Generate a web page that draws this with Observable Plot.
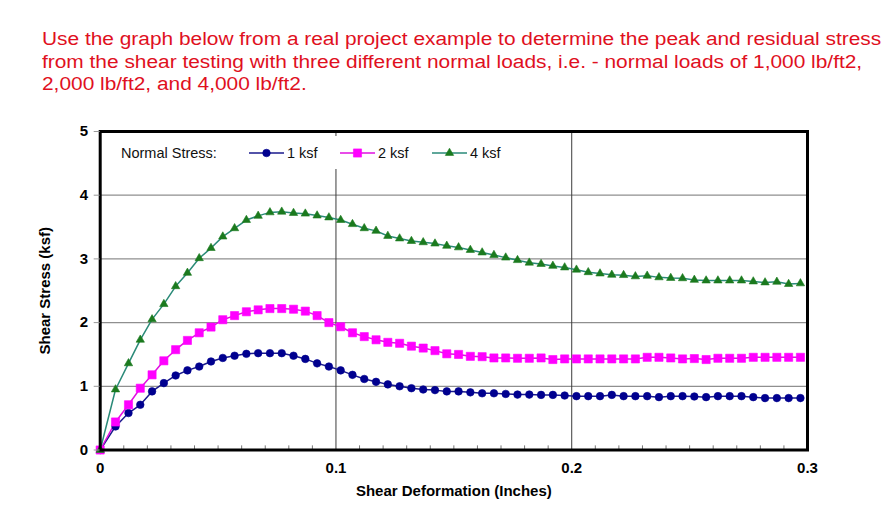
<!DOCTYPE html>
<html>
<head>
<meta charset="utf-8">
<script src="https://cdn.jsdelivr.net/npm/d3@7"></script>
<script src="https://cdn.jsdelivr.net/npm/@observablehq/plot@0.6"></script>
<style>
  html, body { margin: 0; padding: 0; background: #fff; }
  body { position: relative; width: 894px; height: 519px; overflow: hidden;
         font-family: "Liberation Sans", Arial, Helvetica, sans-serif; }
  #title { position: absolute; left: 42px; top: 28px; white-space: nowrap;
           color: #e0101e; font-size: 18px; line-height: 22.5px;
           transform: scaleX(1.16); transform-origin: 0 0; }
  #chart { position: absolute; left: 0; top: 100px; }
  #legend { position: absolute; left: 104px; top: 136px; width: 430px; height: 33px;
            background: #fff; font-size: 14.5px; color: #111; }
  #legend .item { position: absolute; top: 0; height: 33px; display: flex; align-items: center; }
  #legend svg { display: block; }
</style>
</head>
<body>
<div id="title">
  <div>Use the graph below from a real project example to determine the peak and residual stress</div>
  <div>from the shear testing with three different normal loads, i.e. - normal loads of 1,000 lb/ft2,</div>
  <div>2,000 lb/ft2, and 4,000 lb/ft2.</div>
</div>
<div id="chart"></div>
<div id="legend"></div>
<script>
// Shear deformation readings (inches)
const deformation = [
  0, 0.0065, 0.012, 0.017, 0.022, 0.027, 0.032, 0.037, 0.042, 0.047,
  0.052, 0.057, 0.062, 0.067, 0.072, 0.077, 0.082, 0.087, 0.092, 0.097,
  0.102, 0.107, 0.112, 0.117, 0.122, 0.127, 0.132, 0.137, 0.142, 0.147,
  0.152, 0.157, 0.162, 0.167, 0.172, 0.177, 0.182, 0.187, 0.192, 0.197,
  0.202, 0.207, 0.212, 0.217, 0.222, 0.227, 0.232, 0.237, 0.242, 0.247,
  0.252, 0.257, 0.262, 0.267, 0.272, 0.277, 0.282, 0.287, 0.292, 0.297
];

// Shear stress (ksf) under a normal stress of 1 ksf
const stress1ksf = [
  0, 0.37, 0.58, 0.71, 0.92, 1.05, 1.17, 1.25, 1.31, 1.39,
  1.445, 1.48, 1.51, 1.52, 1.52, 1.52, 1.48, 1.43, 1.36, 1.31,
  1.25, 1.18, 1.115, 1.07, 1.03, 1.00, 0.97, 0.95, 0.94, 0.92,
  0.92, 0.905, 0.89, 0.89, 0.88, 0.87, 0.87, 0.865, 0.865, 0.855,
  0.845, 0.845, 0.845, 0.865, 0.845, 0.845, 0.845, 0.83, 0.845, 0.845,
  0.84, 0.83, 0.845, 0.845, 0.845, 0.83, 0.815, 0.815, 0.815, 0.815
];

// Shear stress (ksf) under a normal stress of 2 ksf
const stress2ksf = [
  0, 0.44, 0.71, 0.97, 1.18, 1.40, 1.575, 1.72, 1.84, 1.93,
  2.045, 2.11, 2.17, 2.20, 2.22, 2.22, 2.21, 2.18, 2.11, 2.00,
  1.935, 1.84, 1.78, 1.73, 1.69, 1.675, 1.63, 1.60, 1.56, 1.51,
  1.50, 1.47, 1.465, 1.445, 1.445, 1.44, 1.44, 1.445, 1.42, 1.43,
  1.43, 1.43, 1.43, 1.43, 1.43, 1.43, 1.455, 1.455, 1.445, 1.43,
  1.435, 1.42, 1.44, 1.44, 1.44, 1.455, 1.455, 1.455, 1.455, 1.455
];

// Shear stress (ksf) under a normal stress of 4 ksf
const stress4ksf = [
  0, 0.95, 1.36, 1.73, 2.05, 2.29, 2.57, 2.78, 3.01, 3.17,
  3.35, 3.48, 3.61, 3.675, 3.73, 3.74, 3.72, 3.71, 3.68, 3.65,
  3.61, 3.545, 3.48, 3.44, 3.36, 3.32, 3.28, 3.26, 3.24, 3.205,
  3.18, 3.14, 3.10, 3.06, 3.02, 2.98, 2.94, 2.92, 2.89, 2.865,
  2.83, 2.79, 2.77, 2.75, 2.745, 2.725, 2.735, 2.71, 2.70, 2.695,
  2.67, 2.66, 2.66, 2.66, 2.66, 2.645, 2.63, 2.64, 2.605, 2.615
];

const seriesNames = ["1 ksf", "2 ksf", "4 ksf"];
const xTickValues = [0, 0.1, 0.2, 0.3];
const xTickLabels = ["0", "0.1", "0.2", "0.3"];
const yTickValues = [0, 1, 2, 3, 4, 5];
const minorXTicks = d3.range(1, 30).map(i => i / 100).filter(v => Math.abs(v * 10 - Math.round(v * 10)) > 1e-9);
const yGridValues = [1, 2, 3, 4];
const xGridValues = [0.1, 0.2];

const seriesStyle = {
  "1 ksf": {line: "#1a1a8c", fill: "#00008f", symbol: "circle", r: 3.8},
  "2 ksf": {line: "#e010e0", fill: "#ff00ff", symbol: "square", r: 4.6},
  "4 ksf": {line: "#2a8a78", fill: "#1b7a1e", symbol: "triangle", r: 3.1}
};

const columns = [stress1ksf, stress2ksf, stress4ksf];
const rows = [];
seriesNames.forEach((name, k) => {
  deformation.forEach((x, i) => rows.push({series: name, x, y: columns[k][i]}));
});

const font = '"Liberation Sans", Arial, Helvetica, sans-serif';

const marks = [
  Plot.ruleY(yGridValues, {stroke: "#8f8f8f", strokeWidth: 1.3}),
  Plot.ruleX(xGridValues, {stroke: "#3c3c3c", strokeWidth: 1}),
  Plot.ruleX(minorXTicks, {y1: 0, y2: 0.065, stroke: "#777", strokeWidth: 1})
];
for (const name of seriesNames) {
  const s = seriesStyle[name];
  const data = rows.filter(d => d.series === name);
  marks.push(Plot.line(data, {x: "x", y: "y", stroke: s.line, strokeWidth: 1.5}));
}
for (const name of seriesNames) {
  const s = seriesStyle[name];
  const data = rows.filter(d => d.series === name);
  marks.push(Plot.dot(data, {x: "x", y: "y", symbol: () => s.symbol, r: s.r,
    fill: s.fill, stroke: s.fill, strokeWidth: 0.6}));
}
marks.push(
  Plot.frame({stroke: "#000", strokeWidth: 3}),
  Plot.axisX({ticks: xTickValues, tickFormat: (d, i) => xTickLabels[i], tickSize: 0, tickPadding: 12,
    fontSize: 15, fontWeight: "bold", label: "Shear Deformation (Inches)", labelAnchor: "center",
    labelArrow: false, labelOffset: 46}),
  Plot.axisY({ticks: yTickValues, tickFormat: d => String(d), tickSize: 6, tickPadding: 6, stroke: "#999",
    fontSize: 15, fontWeight: "bold", label: "Shear Stress (ksf)", labelAnchor: "center",
    labelArrow: false, labelOffset: 61})
);

const chart = Plot.plot({
  width: 894,
  height: 410,
  marginLeft: 99.7,
  marginRight: 87,
  marginTop: 31,
  marginBottom: 60.5,
  style: {fontFamily: font, fontSize: "15px", fontWeight: "bold",
          color: "#000", background: "transparent", overflow: "visible"},
  x: {domain: [0, 0.3]},
  y: {domain: [0, 5]},
  symbol: {type: "identity"},
  marks
});
document.getElementById("chart").appendChild(chart);

// Legend: "Normal Stress:" followed by a line-and-marker swatch for each series
const legend = d3.select("#legend");
legend.append("div").attr("class", "item").style("left", "17px").text("Normal Stress:");
const itemLeft = {"1 ksf": 145, "2 ksf": 236, "4 ksf": 328};
const symbolType = {circle: d3.symbolCircle, square: d3.symbolSquare, triangle: d3.symbolTriangle};
for (const name of seriesNames) {
  const s = seriesStyle[name];
  const item = legend.append("div").attr("class", "item").style("left", itemLeft[name] + "px");
  const svg = item.append("svg").attr("width", 36).attr("height", 12);
  svg.append("line").attr("x1", 0).attr("x2", 35).attr("y1", 6).attr("y2", 6)
    .attr("stroke", s.line).attr("stroke-width", 1.5);
  svg.append("path").attr("transform", "translate(17.5,6)")
    .attr("d", d3.symbol(symbolType[s.symbol], Math.PI * s.r * s.r)())
    .attr("fill", s.fill).attr("stroke", s.fill).attr("stroke-width", 0.6);
  item.append("span").style("margin-left", "2px").text(name);
}
</script>
</body>
</html>
